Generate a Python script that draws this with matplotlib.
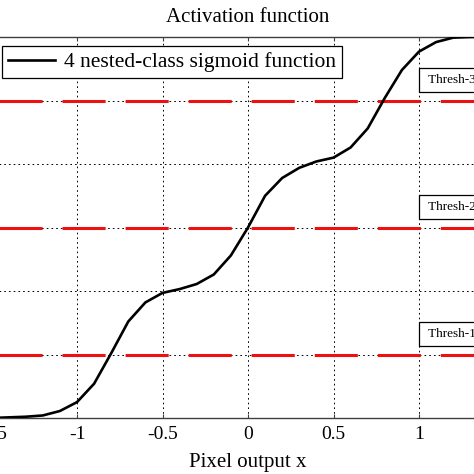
import numpy as np
import matplotlib
matplotlib.use("Agg")
from matplotlib import pyplot as plt

# curve
pixel_x = [-1.5, -1.4, -1.3, -1.2, -1.1, -1.0, -0.9, -0.8, -0.7, -0.6, -0.5,
           -0.4, -0.3, -0.2, -0.1, 0.0, 0.1, 0.2, 0.3, 0.4, 0.5,
           0.6, 0.7, 0.8, 0.9, 1.0, 1.1, 1.2, 1.3, 1.4, 1.5]
activation = [0.0, 0.005, 0.01, 0.02, 0.055, 0.125, 0.27, 0.51, 0.76, 0.91, 0.985,
              1.015, 1.055, 1.13, 1.28, 1.5, 1.75, 1.89, 1.97, 2.02, 2.05,
              2.13, 2.28, 2.52, 2.74, 2.885, 2.96, 2.995, 3.0, 3.0, 3.0]

thresholds = [0.5, 1.5, 2.5]
thresh_labels = ["Thresh-1", "Thresh-2", "Thresh-3"]
thresh_label_y = [0.66, 1.66, 2.66]
thresh_label_x = 1.0

xticks = [-1.5, -1.0, -0.5, 0.0, 0.5, 1.0, 1.5]
xtick_labels = ["-1.5", "-1", "-0.5", "0", "0.5", "1", "1.5"]
yticks = [0, 0.5, 1.0, 1.5, 2.0, 2.5, 3.0]

plt.rcParams['font.family'] = ['Liberation Serif', 'DejaVu Serif']
plt.rcParams['axes.unicode_minus'] = False
plt.rcParams['lines.scale_dashes'] = False

fig = plt.figure(figsize=(4.74, 4.74), dpi=100)
ax = fig.add_axes([-8.5 / 474, 56 / 474, 513 / 474, 381 / 474])

ax.set_xlim(-1.5, 1.5)
ax.set_ylim(0, 3)
ax.set_xticks(xticks, xtick_labels)
ax.set_yticks(yticks)

ax.grid(True, color='black', linewidth=0.7, dashes=(1.2, 2.2))
ax.set_axisbelow(True)

for t in thresholds:
    ax.plot([-1.5, 1.5], [t, t], color='#ee1111', linewidth=2.2,
            dashes=(31, 14.4), zorder=3)

line, = ax.plot(pixel_x, activation, color='black', linewidth=1.9, zorder=4,
                label='4 nested-class sigmoid function')

# box edge sits on x = 1; pad is 0.45 * 9.5 pt
for yy, lab in zip(thresh_label_y, thresh_labels):
    ax.text(thresh_label_x + 5.9 / 171, yy, " " + lab, fontsize=9.5, ha='left', va='center',
            zorder=6, bbox=dict(boxstyle='square,pad=0.45', fc='white', ec='black', lw=0.9))

leg = ax.legend(loc='upper left', bbox_to_anchor=(0.0197, 0.9764), borderaxespad=0,
                fontsize=15.5, handlelength=2.2, handletextpad=0.42, borderpad=0.28,
                fancybox=False, framealpha=1, edgecolor='black')
leg.get_frame().set_linewidth(0.9)
leg.set_zorder(7)

for s in ax.spines.values():
    s.set_color('#404040')
    s.set_linewidth(1.0)

ax.tick_params(axis='both', direction='in', length=3, top=True, right=True,
               labelsize=14, pad=6, color='#404040')
ax.set_title('Activation function', fontsize=15, pad=11)
ax.set_xlabel('Pixel output x', fontsize=15, labelpad=7)

fig.savefig('out.png', dpi=100)
